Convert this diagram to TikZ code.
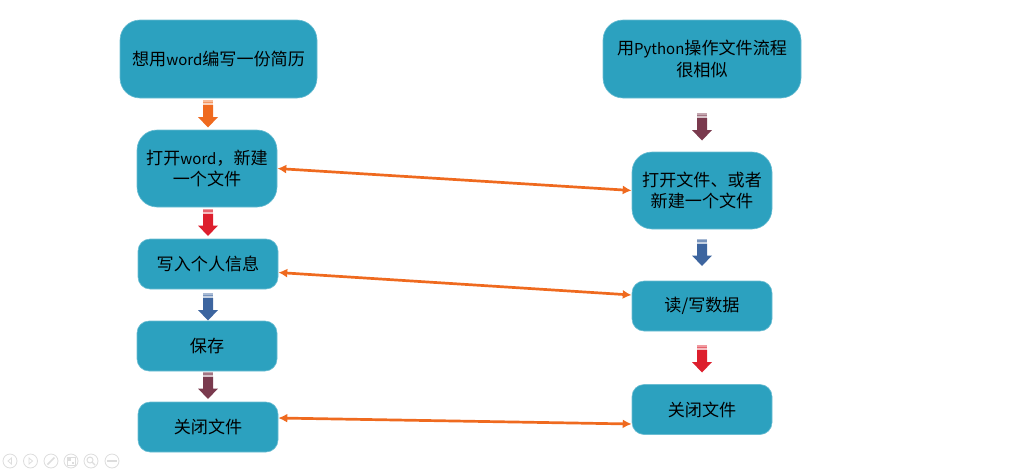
\documentclass[tikz,border=0pt]{standalone}
\usepackage{fontspec}
\setmainfont{Noto Sans CJK SC}
\usetikzlibrary{arrows.meta}
\definecolor{boxblue}{HTML}{2CA1BF}
\definecolor{aorange}{HTML}{EF6A1F}
\definecolor{ared}{HTML}{DD1F2D}
\definecolor{ablue}{HTML}{3D659F}
\definecolor{amaroon}{HTML}{7A3A4E}
\definecolor{iconc}{HTML}{DDDDDD}
% #1 centre x, #2 top y, #3 colour
\newcommand{\blockarr}[3]{%
  \fill[#3] (#1-5,#2+5) -- (#1+5,#2+5) -- (#1+5,#2+17) -- (#1+10,#2+17) -- (#1,#2+27.5) -- (#1-10,#2+17) -- (#1-5,#2+17) -- cycle;
  \fill[#3!45!white] (#1-5,#2) rectangle (#1+5,#2+1.5);
  \fill[#3!70!white] (#1-5,#2+1.5) rectangle (#1+5,#2+3);
  \fill[#3!30!white] (#1-5,#2+3) rectangle (#1+5,#2+5);
}
\newcommand{\latn}[1]{{\fontsize{15}{21.5}\selectfont #1}}
\tikzset{
  bx/.style={fill=boxblue,draw=boxblue!70!white,line width=0.6pt,text=black,align=center,font=\fontsize{17.1}{21.5}\selectfont,inner sep=0pt},
  big/.style={bx,rounded corners=20pt},
  small/.style={bx,rounded corners=12pt,minimum width=140pt,minimum height=50pt},
  link/.style={draw=aorange,line width=2.7pt,{Latex[length=9pt,width=9pt]}-{Latex[length=9pt,width=9pt]}},
  ic/.style={draw=iconc,line width=0.8pt,fill=white}
}
\begin{document}
\begin{tikzpicture}[x=1pt,y=-1pt]
\useasboundingbox (0,0) rectangle (1024,471);
\node[big,minimum width=197pt,minimum height=78pt] (a) at (218.5,59) {想用\latn{word}编写一份简历};
\node[big,minimum width=140pt,minimum height=77pt] (b) at (207,168.5) {打开\latn{word}，新建\\一个文件};
\node[small] (c) at (208,264) {写入个人信息};
\node[small] (d) at (207,346) {保存};
\node[small] (e) at (208,427) {关闭文件};
\node[big,minimum width=198pt,minimum height=78pt] (r1) at (702,59) {用\latn{Python}操作文件流程\\很相似};
\node[big,minimum width=140pt,minimum height=77pt] (r2) at (702,190.5) {打开文件、或者\\新建一个文件};
\node[small] (r3) at (702,306) {读/写数据};
\node[small] (r4) at (702,409.5) {关闭文件};
\blockarr{208}{100}{aorange}
\blockarr{208}{208.5}{ared}
\blockarr{208}{293}{ablue}
\blockarr{208}{371.5}{amaroon}
\blockarr{702}{113}{amaroon}
\blockarr{702}{238.5}{ablue}
\blockarr{702}{345}{ared}
\draw[link] (b.east) -- (r2.west);
\draw[link] ([yshift=-8.5pt]c.east) -- ([yshift=11pt]r3.west);
\draw[link] ([yshift=9pt]e.east) -- ([yshift=-14.5pt]r4.west);
% slide-show toolbar
\foreach \x in {10,30.5,51,71,91,112} \draw[ic] (\x,461) circle (7);
\draw[iconc,line width=0.8pt] (11.5,458) -- (8,461) -- (11.5,464) -- cycle;
\draw[iconc,line width=0.8pt] (29,458) -- (32.5,461) -- (29,464) -- cycle;
\draw[iconc,line width=1.5pt] (47.5,464.5) -- (54.5,457.5);
\draw[iconc,line width=0.8pt] (67,457) rectangle (75,465);
\fill[iconc] (68,458) rectangle (71,461);
\fill[iconc] (71.5,461.5) rectangle (74,464);
\draw[iconc,line width=1pt] (90,460) circle (3);
\draw[iconc,line width=1.4pt] (92.2,462.2) -- (95,465);
\draw[iconc,line width=1.4pt] (107,461) -- (117,461);
\end{tikzpicture}
\end{document}
